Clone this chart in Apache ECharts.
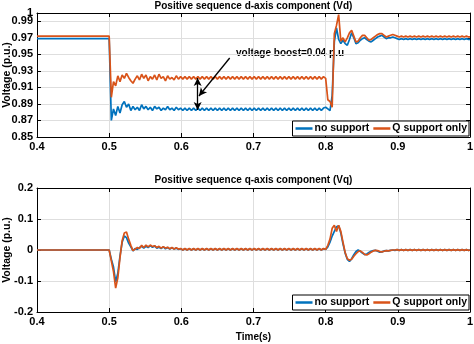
<!DOCTYPE html>
<html>
<head>
<meta charset="utf-8">
<script src="https://cdn.jsdelivr.net/npm/echarts@6/dist/echarts.min.js"></script>
<style>html,body{margin:0;padding:0;background:#fff}#c{width:474px;height:344px}</style>
</head>
<body>
<div id="c"></div>
<script>
// ---------- data ----------
const seriesNames = ['no support', 'Q support only'];
const xTicks = [0.4, 0.5, 0.6, 0.7, 0.8, 0.9, 1];
const vdTicks = [0.85, 0.87, 0.89, 0.91, 0.93, 0.95, 0.97, 0.99, 1];
const vqTicks = [-0.2, -0.1, 0, 0.1, 0.2];

// sampling: pre-fault points, then a 3 ms grid starting at 0.5 s, then end point 1.0 s
const preTimes = [0.4, 0.497];
const gridStart = 0.5, gridStep = 0.003;

// Vd, no support
const vdNoPre = [0.969, 0.969];
const vdNoFault = [0.969,0.870,0.884,0.876,0.887,0.879,0.889,0.893,0.886,0.890,
  0.882,0.887,0.883,0.886,0.882,0.889,0.884,0.887,0.883,0.886,
  0.882,0.887,0.884,0.886,0.882,0.885,0.883,0.887,0.883,0.885,
  0.882,0.886,0.883];
const vdNoRipple = [0.885,0.882,0.885,0.882,0.885,0.882,0.885,0.882,0.885,0.882,
  0.885,0.882,0.885,0.882,0.885,0.882,0.885,0.882,0.885,0.882,
  0.885,0.882,0.885,0.882,0.885,0.882,0.885,0.882,0.885,0.882,
  0.885,0.882,0.885,0.882,0.885,0.882,0.885,0.882,0.885,0.882,
  0.885,0.882,0.885,0.882,0.885,0.882,0.885,0.882,0.885,0.882,
  0.885,0.882,0.885,0.882,0.885,0.882,0.885,0.882,0.885,0.882,
  0.885,0.882,0.885,0.882,0.885,0.882,0.885];
const vdNoRecovery = [0.886,0.884,0.882,0.900,0.965,0.982,0.968,0.963,0.967,0.963,
  0.961,0.968,0.976,0.970,0.963,0.964,0.967,0.969,0.970,0.968,
  0.966,0.965,0.967,0.969,0.971,0.972,0.973,0.971,0.969,0.970,
  0.970,0.971,0.970];
const vdNoSteady = [0.969,0.968,0.969,0.968,0.969,0.968,0.969,0.968,0.969,0.968,
  0.969,0.968,0.969,0.968,0.969,0.968,0.969,0.968,0.969,0.968,
  0.969,0.968,0.969,0.968,0.969,0.968,0.969,0.968,0.969,0.968,
  0.969,0.968,0.969,0.968];
const vdNoEnd = 0.968;

// Vd, Q support only
const vdQPre = [0.972, 0.972];
const vdQFault = [0.972,0.898,0.917,0.912,0.924,0.917,0.925,0.921,0.927,0.922,
  0.918,0.915,0.920,0.924,0.919,0.926,0.921,0.925,0.918,0.923,
  0.920,0.925,0.919,0.926,0.921,0.923,0.918,0.924,0.920,0.922,
  0.919,0.924,0.920];
const vdQRipple = [0.923,0.920,0.923,0.920,0.923,0.920,0.923,0.920,0.923,0.920,
  0.923,0.920,0.923,0.920,0.923,0.920,0.923,0.920,0.923,0.920,
  0.923,0.920,0.923,0.920,0.923,0.920,0.923,0.920,0.923,0.920,
  0.923,0.920,0.923,0.920,0.923,0.920,0.923,0.920,0.923,0.920,
  0.923,0.920,0.923,0.920,0.923,0.920,0.923,0.920,0.923,0.920,
  0.923,0.920,0.923,0.920,0.923,0.920,0.923,0.920,0.923,0.920,
  0.923,0.920,0.923,0.920,0.923,0.920,0.923];
const vdQRecovery = [0.921,0.895,0.893,0.886,0.975,0.985,0.998,0.966,0.970,0.965,
  0.970,0.976,0.979,0.972,0.965,0.966,0.970,0.973,0.973,0.970,
  0.967,0.968,0.970,0.972,0.974,0.975,0.975,0.973,0.971,0.972,
  0.973,0.974,0.973];
const vdQSteady = [0.972,0.971,0.972,0.971,0.972,0.971,0.972,0.971,0.972,0.971,
  0.972,0.971,0.972,0.971,0.972,0.971,0.972,0.971,0.972,0.971,
  0.972,0.971,0.972,0.971,0.972,0.971,0.972,0.971,0.972,0.971,
  0.972,0.971,0.972,0.971];
const vdQEnd = 0.971;

// Vq, no support
const vqNoPre = [0, 0];
const vqNoFault = [0.000,-0.030,-0.055,-0.103,-0.075,-0.020,0.025,0.045,0.040,0.022,
  0.010,-0.003,0.005,0.002,0.008,0.012,0.006,0.012,0.008,0.014,
  0.009,0.013,0.006,0.009,0.005,0.010,0.004,0.008,0.003,0.007,
  0.003,0.006,0.002];
const vqNoRipple = [0.004,0.000,0.004,0.000,0.004,0.000,0.004,0.000,0.004,0.000,
  0.004,0.000,0.004,0.000,0.004,0.000,0.004,0.000,0.004,0.000,
  0.004,0.000,0.004,0.000,0.004,0.000,0.004,0.000,0.004,0.000,
  0.004,0.000,0.004,0.000,0.004,0.000,0.004,0.000,0.004,0.000,
  0.004,0.000,0.004,0.000,0.004,0.000,0.004,0.000,0.004,0.000,
  0.004,0.000,0.004,0.000,0.004,0.000,0.004,0.000,0.004,0.000,
  0.004,0.000,0.004,0.000,0.004,0.000,0.004];
const vqNoRecovery = [0.002,0.010,0.025,0.045,0.060,0.075,0.078,0.055,0.020,-0.010,
  -0.030,-0.037,-0.028,-0.015,-0.005,0.000,-0.004,-0.010,-0.015,-0.013,
  -0.008,-0.004,-0.002,-0.001,-0.004,-0.007,-0.006,-0.003,-0.002,-0.003,
  -0.001,0.000,-0.001];
const vqNoSteady = [0.001,-0.001,0.001,-0.001,0.001,-0.001,0.001,-0.001,0.001,-0.001,
  0.001,-0.001,0.001,-0.001,0.001,-0.001,0.001,-0.001,0.001,-0.001,
  0.001,-0.001,0.001,-0.001,0.001,-0.001,0.001,-0.001,0.001,-0.001,
  0.001,-0.001,0.001,-0.001];
const vqNoEnd = 0.000;

// Vq, Q support only
const vqQPre = [0, 0];
const vqQFault = [0.000,-0.035,-0.070,-0.123,-0.090,-0.025,0.030,0.055,0.058,0.035,
  0.015,-0.002,0.003,0.008,0.005,0.015,0.008,0.016,0.010,0.016,
  0.011,0.014,0.008,0.012,0.006,0.011,0.006,0.009,0.004,0.008,
  0.003,0.007,0.003];
const vqQRipple = [0.005,0.000,0.005,0.000,0.005,0.000,0.005,0.000,0.005,0.000,
  0.005,0.000,0.005,0.000,0.005,0.000,0.005,0.000,0.005,0.000,
  0.005,0.000,0.005,0.000,0.005,0.000,0.005,0.000,0.005,0.000,
  0.005,0.000,0.005,0.000,0.005,0.000,0.005,0.000,0.005,0.000,
  0.005,0.000,0.005,0.000,0.005,0.000,0.005,0.000,0.005,0.000,
  0.005,0.000,0.005,0.000,0.005,0.000,0.005,0.000,0.005,0.000,
  0.005,0.000,0.005,0.000,0.005,0.000,0.005];
const vqQRecovery = [0.002,0.015,0.035,0.070,0.080,0.060,0.080,0.060,0.025,-0.008,
  -0.028,-0.033,-0.030,-0.020,-0.012,-0.005,-0.003,-0.008,-0.014,-0.016,
  -0.012,-0.007,-0.003,-0.001,-0.002,-0.005,-0.006,-0.004,-0.002,-0.003,
  -0.001,0.000,0.000];
const vqQSteady = [0.001,-0.001,0.001,-0.001,0.001,-0.001,0.001,-0.001,0.001,-0.001,
  0.001,-0.001,0.001,-0.001,0.001,-0.001,0.001,-0.001,0.001,-0.001,
  0.001,-0.001,0.001,-0.001,0.001,-0.001,0.001,-0.001,0.001,-0.001,
  0.001,-0.001,0.001,-0.001];
const vqQEnd = 0.000;

// annotation (data coordinates: time, voltage)
const boostArrow = [[0.6226, 0.9214], [0.6226, 0.8827]];
const pointerArrow = [[0.667, 0.9456], [0.6244, 0.8996]];
const boostText = 'voltage boost=0.04 p.u';

// ---------- build ----------
function build(pre, parts, endVal) {
  const out = [];
  pre.forEach((v, i) => out.push([preTimes[i], v]));
  const vals = [].concat(...parts);
  vals.forEach((v, i) => out.push([+(gridStart + i * gridStep).toFixed(3), v]));
  out.push([1.0, endVal]);
  return out;
}
const dVdNo = build(vdNoPre, [vdNoFault, vdNoRipple, vdNoRecovery, vdNoSteady], vdNoEnd);
const dVdQ = build(vdQPre, [vdQFault, vdQRipple, vdQRecovery, vdQSteady], vdQEnd);
const dVqNo = build(vqNoPre, [vqNoFault, vqNoRipple, vqNoRecovery, vqNoSteady], vqNoEnd);
const dVqQ = build(vqQPre, [vqQFault, vqQRipple, vqQRecovery, vqQSteady], vqQEnd);

const FONT = 'Liberation Sans, Arial, Helvetica, sans-serif';
const BLUE = '#0072BD', ORANGE = '#D95319';
const gridColor = '#dedede';

function xAx(gridIndex, main, withName) {
  return {
    type: 'value', gridIndex, min: 0.4, max: 1, interval: 0.1,
    position: main ? 'bottom' : 'top',
    axisLine: { show: true, onZero: false, lineStyle: { color: '#000', width: 1 } },
    axisTick: { show: true, inside: true, length: 4, lineStyle: { color: '#000' } },
    axisLabel: { show: main, margin: 4, color: '#000', fontFamily: FONT, fontWeight: 'bold', fontSize: 11,
      showMinLabel: true, showMaxLabel: true, hideOverlap: false,
      formatter: v => xTicks.includes(+v.toFixed(2)) ? String(+v.toFixed(2)) : '' },
    splitLine: { show: main, lineStyle: { color: gridColor, width: 1 } },
    name: withName ? 'Time(s)' : '', nameLocation: 'middle', nameGap: 20,
    nameTextStyle: { color: '#000', fontFamily: FONT, fontWeight: 'bold', fontSize: 10 }
  };
}
// kind: 'main' (left, labels+grid), 'right' (box ticks), 'extra' (left, only given label values)
function yAx(gridIndex, kind, ticks, labelValues) {
  const main = kind === 'main', extra = kind === 'extra';
  return {
    type: 'value', gridIndex, min: ticks[0], max: ticks[ticks.length - 1],
    position: kind === 'right' ? 'right' : 'left', offset: 0,
    axisLine: { show: !extra, onZero: false, lineStyle: { color: '#000', width: 1 } },
    axisTick: { show: !extra, inside: true, length: 4, lineStyle: { color: '#000' }, customValues: ticks },
    axisLabel: { show: main || extra, margin: 4, color: '#000', fontFamily: FONT, fontWeight: 'bold', fontSize: 11,
      showMinLabel: true, showMaxLabel: true, hideOverlap: false,
      customValues: labelValues || ticks, formatter: v => String(+(+v).toFixed(2)) },
    splitLine: { show: main, lineStyle: { color: gridColor, width: 1 } },
    name: main ? 'Voltage (p.u.)' : '', nameLocation: 'middle', nameGap: 24, nameMoveOverlap: false,
    nameTextStyle: { color: '#000', fontFamily: FONT, fontWeight: 'bold', fontSize: 10.5 }
  };
}
function lineSeries(name, color, data, xi, yi, extra) {
  return Object.assign({
    type: 'line', name, data, xAxisIndex: xi, yAxisIndex: yi,
    showSymbol: false, symbol: 'none', animation: false, silent: true,
    lineStyle: { color, width: 1.7 }, itemStyle: { color }
  }, extra || {});
}
function legendAt(top) {
  return {
    data: seriesNames.map(n => ({ name: n, icon: 'rect' })),
    right: 5, top, orient: 'horizontal',
    itemWidth: 17, itemHeight: 2.5, itemGap: 4, padding: [2, 2, 2, 3],
    borderColor: '#000', borderWidth: 1, backgroundColor: '#fff',
    textStyle: { color: '#000', fontFamily: FONT, fontWeight: 'bold', fontSize: 10.5, padding: [0, 0, 0, -3] },
    selectedMode: false
  };
}

const vdLabelsLow = vdTicks.slice(0, vdTicks.length - 1);
const vdLabelTop = vdTicks.slice(vdTicks.length - 1);

const chart = echarts.init(document.getElementById('c'), null, { renderer: 'canvas' });
chart.setOption({
  animation: false,
  backgroundColor: '#fff',
  grid: [
    { left: 37, right: 4, top: 13, height: 124, containLabel: false, outerBoundsMode: 'none' },
    { left: 37, right: 4, top: 188, height: 124, containLabel: false, outerBoundsMode: 'none' }
  ],
  xAxis: [xAx(0, true, false), xAx(0, false, false), xAx(1, true, true), xAx(1, false, false)],
  yAxis: [
    yAx(0, 'main', vdTicks, vdLabelsLow), yAx(0, 'right', vdTicks),
    yAx(1, 'main', vqTicks), yAx(1, 'right', vqTicks),
    yAx(0, 'extra', vdTicks, vdLabelTop)
  ],
  legend: [legendAt(121), legendAt(295)],
  series: [
    lineSeries(seriesNames[0], BLUE, dVdNo, 0, 0),
    lineSeries(seriesNames[1], ORANGE, dVdQ, 0, 0, {
      markLine: {
        silent: true, animation: false, symbolSize: [6, 8],
        lineStyle: { color: '#000', width: 1.3, type: 'solid' },
        label: { show: false },
        data: [
          [{ coord: boostArrow[0], symbol: 'arrow' }, { coord: boostArrow[1], symbol: 'arrow' }],
          [{ coord: pointerArrow[0], symbol: 'none' }, { coord: pointerArrow[1], symbol: 'arrow' }]
        ]
      }
    }),
    lineSeries(seriesNames[0], BLUE, dVqNo, 2, 2),
    lineSeries(seriesNames[1], ORANGE, dVqQ, 2, 2)
  ],
  graphic: [
    { type: 'text', x: 253.5, y: 6, silent: true,
      style: { text: 'Positive sequence d-axis component (Vd)', align: 'center', verticalAlign: 'middle',
        textAlign: 'center', textVerticalAlign: 'middle', fill: '#000', font: 'bold 10px ' + FONT } },
    { type: 'text', x: 253.5, y: 180, silent: true,
      style: { text: 'Positive sequence q-axis component (Vq)', align: 'center', verticalAlign: 'middle',
        textAlign: 'center', textVerticalAlign: 'middle', fill: '#000', font: 'bold 10px ' + FONT } },
    { type: 'text', x: 236, y: 53, silent: true,
      style: { text: boostText, align: 'left', verticalAlign: 'middle',
        textAlign: 'left', textVerticalAlign: 'middle', fill: '#000', font: 'bold 10px ' + FONT } }
  ]
});
</script>
</body>
</html>
